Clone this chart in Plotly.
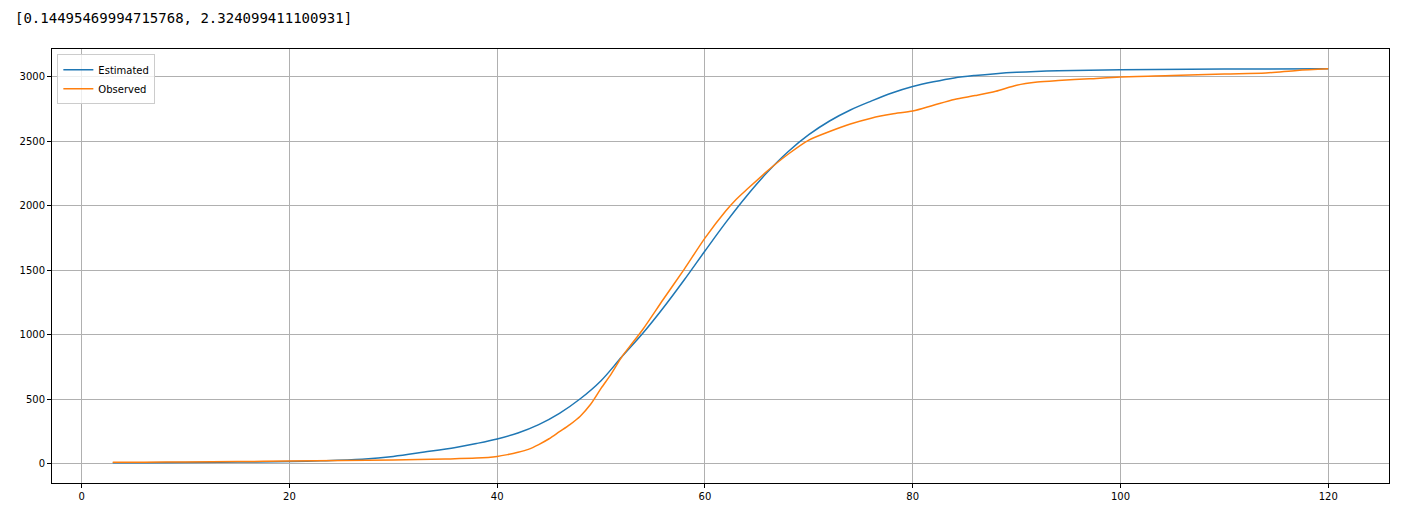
# coding=UTF-8

import plotly.graph_objs as go

# values
est_days = [3, 6, 10, 15, 20, 23, 27, 30, 33, 36, 38, 40, 42, 44, 46, 48, 50, 52, 54,
            56, 58, 60, 62, 64, 66, 68, 70, 72, 74, 76, 78, 80, 82, 84, 86, 88, 90, 94, 100, 110, 120]
est_values = [8, 9, 11, 14, 18, 24, 37, 58, 92, 128, 158, 193, 240, 305, 392, 505, 645, 830, 1010,
              1210, 1425, 1650, 1870, 2075, 2260, 2420, 2552, 2658, 2743, 2812, 2875, 2925, 2962, 2992, 3011, 3025, 3035, 3047, 3056, 3061, 3063]

obs_days = [3, 6, 10, 15, 20, 25, 30, 35, 38, 40, 41, 42, 43, 44, 45, 46, 47, 48, 49, 50,
            51, 52, 53, 54, 56, 58, 60, 62, 63, 64, 66, 68, 70, 72, 74, 76, 78, 80, 82,
            84, 86, 88, 90, 92, 94, 97, 100, 105, 110, 114, 117, 120]
obs_values = [12, 13, 15, 18, 22, 27, 31, 38, 45, 58, 72, 90, 113, 150, 195, 250, 305, 370, 462, 585,
              700, 830, 935, 1040, 1276, 1508, 1750, 1960, 2050, 2125, 2270, 2400, 2510, 2577, 2635, 2680, 2712, 2735, 2780,
              2825, 2855, 2888, 2935, 2960, 2972, 2985, 2999, 3010, 3022, 3030, 3050, 3063]

x_ticks = [0, 20, 40, 60, 80, 100, 120]
y_ticks = [0, 500, 1000, 1500, 2000, 2500, 3000]

params_text = "[0.14495469994715768, 2.324099411100931]"


def GetTrace():
    tracelist = []
    trace = go.Scatter(
        x=est_days,
        y=est_values,
        mode="lines",
        name="Estimated",
        line=dict(color="#1f77b4", width=1.5, shape="spline", smoothing=1.0)
    )
    tracelist.append(trace)

    trace = go.Scatter(
        x=obs_days,
        y=obs_values,
        mode="lines",
        name="Observed",
        line=dict(color="#ff7f0e", width=1.5, shape="spline", smoothing=0.8)
    )
    tracelist.append(trace)
    return tracelist


def main():
    axis_style = dict(
        showgrid=True,
        gridcolor="#b0b0b0",
        gridwidth=0.8,
        zeroline=False,
        showline=True,
        linecolor="black",
        linewidth=1,
        mirror=True,
        ticks="outside",
        ticklen=4,
        tickcolor="black",
        tickfont=dict(family="DejaVu Sans", size=10, color="black"),
    )
    # page has an 8px body margin, so the figure is a bit narrower than the window
    layout = go.Layout(
        width=1411,
        height=506,
        margin=dict(l=41, r=30, t=41, b=22),
        paper_bgcolor="white",
        plot_bgcolor="white",
        showlegend=True,
        legend=dict(
            x=0.004, y=0.988, xanchor="left", yanchor="top",
            bgcolor="rgba(255,255,255,0.8)",
            bordercolor="#cccccc", borderwidth=1,
            font=dict(family="DejaVu Sans", size=10, color="black"),
            itemwidth=30,
            tracegroupgap=0,
        ),
        xaxis=dict(axis_style, range=[-2.85, 125.85], tickvals=x_ticks),
        yaxis=dict(axis_style, range=[-148, 3216], tickvals=y_ticks),
        annotations=[dict(
            text=params_text,
            xref="paper", yref="paper",
            x=-0.0291, y=1.0713,
            xanchor="left", yanchor="middle",
            showarrow=False,
            font=dict(family="DejaVu Sans Mono", size=14, color="black"),
        )],
    )
    fig = go.Figure(data=GetTrace(), layout=layout)
    fig.write_html("out.html")


if __name__ == '__main__':
    main()
